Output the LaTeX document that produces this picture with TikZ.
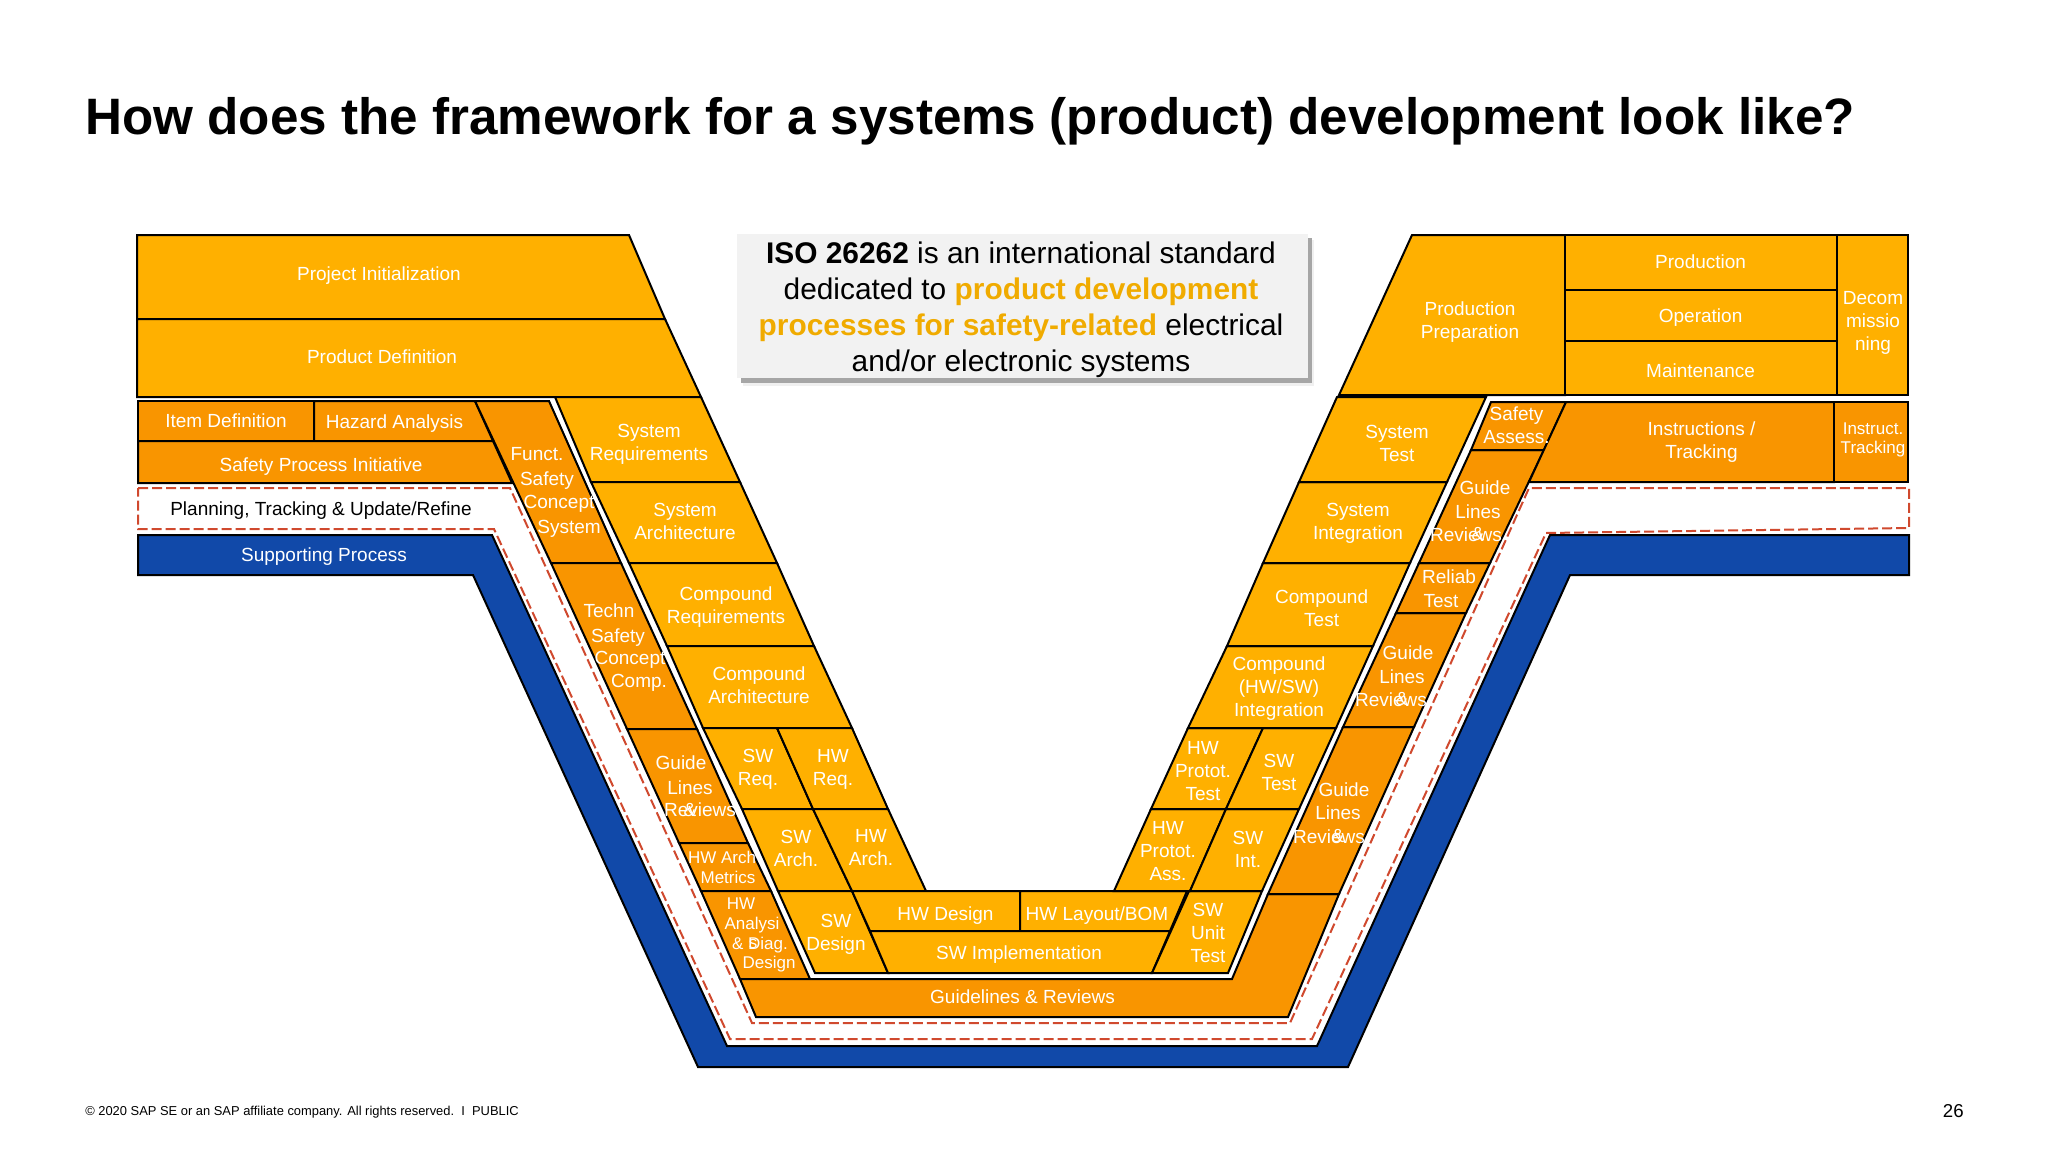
\documentclass[tikz,border=0pt]{standalone}
\usepackage{fontspec}
\setmainfont{Liberation Sans}
\definecolor{yel}{HTML}{FFB000}
\definecolor{org}{HTML}{F99500}
\definecolor{blu}{HTML}{1149A9}
\definecolor{dsh}{HTML}{D0492E}
\definecolor{cal}{HTML}{F2F2F2}
\definecolor{hl}{HTML}{F0AB00}
\tikzset{
  yelcell/.style={fill=yel,draw=black,line width=1.5pt,line join=miter},
  orgcell/.style={fill=org,draw=black,line width=1.5pt,line join=miter},
  blucell/.style={fill=blu,draw=black,line width=1.5pt},
  dashband/.style={fill=white,draw=dsh,line width=1.5pt,dash pattern=on 7.5pt off 3pt},
  lbl/.style={text=white,align=center,inner sep=0pt,font=\fontsize{14.25}{17.25}\selectfont},
  lblsm/.style={lbl,font=\fontsize{12.75}{14.6}\selectfont},
}
\begin{document}
\begin{tikzpicture}[x=0.75pt,y=-0.75pt]
\useasboundingbox (0,0) rectangle (2048,1152);
\fill[white] (0,0) rectangle (2048,1152);
% title
\node[anchor=base west,inner sep=0pt,font=\fontsize{38.4}{44}\selectfont\bfseries] (title) at (85,135) {How does the framework for a systems (product) development look like?};
% supporting band
\draw[blucell] (138,535)--(492,535)--(727,1046)--(1317,1046)--(1550,535)--(1909,535)--(1909,575)--(1570,575)--(1348,1067)--(698,1067)--(473,575)--(138,575)--cycle;
% planning band
\draw[dashband] (138,488)--(510,488)--(752,1023)--(1290,1023)--(1529,488)--(1909,488)--(1909,528)--(1546,533)--(1312,1039)--(730,1039)--(494,529)--(138,529)--cycle;
% left safety column
\draw[orgcell] (138,401)--(314,401)--(314,441)--(138,441)--cycle;
\draw[orgcell] (314,401)--(475,401)--(493,441)--(314,441)--cycle;
\draw[orgcell] (138,441)--(493,441)--(512,483)--(138,483)--cycle;
\draw[orgcell] (475,401)--(549,401)--(621,563)--(551,563)--cycle;
\draw[orgcell] (551,563)--(621,563)--(697,729)--(627,729)--cycle;
\draw[orgcell] (627,729)--(697,729)--(748,843)--(679,843)--cycle;
\draw[orgcell] (679,843)--(748,843)--(771,891)--(701,891)--cycle;
\draw[orgcell] (701,891)--(771,891)--(810,979)--(740,979)--cycle;
% guidelines bar
\draw[orgcell] (740,979)--(1232,979)--(1268,894)--(1339,894)--(1288,1017)--(756,1017)--cycle;
% right safety column
\draw[orgcell] (1268,894)--(1343,727)--(1414,727)--(1339,894)--cycle;
\draw[orgcell] (1343,727)--(1396,613)--(1466,613)--(1414,727)--cycle;
\draw[orgcell] (1396,613)--(1419,563)--(1490,563)--(1466,613)--cycle;
\draw[orgcell] (1419,563)--(1471,450)--(1544,450)--(1490,563)--cycle;
\draw[orgcell] (1471,450)--(1491,402)--(1566,402)--(1544,450)--cycle;
\draw[orgcell] (1566,402)--(1834,402)--(1834,482)--(1529,482)--cycle;
\draw[orgcell] (1834,402)--(1908,402)--(1908,482)--(1834,482)--cycle;
% top left
\draw[yelcell] (137,235)--(629,235)--(665,319)--(137,319)--cycle;
\draw[yelcell] (137,319)--(665,319)--(701,397)--(137,397)--cycle;
% left arm
\draw[yelcell] (555,397)--(701,397)--(740,482)--(591,482)--cycle;
\draw[yelcell] (591,482)--(740,482)--(777,563)--(629,563)--cycle;
\draw[yelcell] (629,563)--(777,563)--(814,646)--(667,646)--cycle;
\draw[yelcell] (667,646)--(814,646)--(852,728)--(703,728)--cycle;
\draw[yelcell] (703,728)--(777,728)--(813,809)--(742,809)--cycle;
\draw[yelcell] (777,728)--(852,728)--(888,809)--(813,809)--cycle;
\draw[yelcell] (742,809)--(813,809)--(852,891)--(778,891)--cycle;
\draw[yelcell] (813,809)--(888,809)--(926,891)--(852,891)--cycle;
\draw[yelcell] (778,891)--(852,891)--(888,973)--(815,973)--cycle;
% bottom
\draw[yelcell] (852,891)--(1020,891)--(1020,931)--(870,931)--cycle;
\draw[yelcell] (1020,891)--(1187,891)--(1170,931)--(1020,931)--cycle;
\draw[yelcell] (870,931)--(1170,931)--(1152,973)--(888,973)--cycle;
\draw[yelcell] (1189,891)--(1262,891)--(1228,973)--(1152,973)--cycle;
% right arm
\draw[yelcell] (1151,809)--(1226,809)--(1190,891)--(1114,891)--cycle;
\draw[yelcell] (1226,809)--(1299,809)--(1262,891)--(1190,891)--cycle;
\draw[yelcell] (1188,728)--(1263,728)--(1226,809)--(1151,809)--cycle;
\draw[yelcell] (1263,728)--(1336,728)--(1299,809)--(1226,809)--cycle;
\draw[yelcell] (1227,646)--(1373,646)--(1336,728)--(1188,728)--cycle;
\draw[yelcell] (1263,563)--(1410,563)--(1373,646)--(1227,646)--cycle;
\draw[yelcell] (1299,482)--(1447,482)--(1410,563)--(1263,563)--cycle;
\draw[yelcell] (1337,397)--(1486,397)--(1447,482)--(1299,482)--cycle;
% top right
\draw[yelcell] (1412,235)--(1565,235)--(1565,395)--(1339,395)--cycle;
\draw[yelcell] (1565,235)--(1837,235)--(1837,290)--(1565,290)--cycle;
\draw[yelcell] (1565,290)--(1837,290)--(1837,341)--(1565,341)--cycle;
\draw[yelcell] (1565,341)--(1837,341)--(1837,395)--(1565,395)--cycle;
\draw[yelcell] (1837,235)--(1908,235)--(1908,395)--(1837,395)--cycle;
% callout
\fill[black!6] (743,240) rectangle (1314,386);
\fill[black!35] (741,238) rectangle (1312,383);
\fill[cal] (737,234) rectangle (1308,378);
\node[align=center,inner sep=0pt,font=\fontsize{22.4}{27}\selectfont] (callout) at (1021,310) {\textbf{ISO 26262} is an international standard\\dedicated to \textcolor{hl}{\textbf{product development}}\\\textcolor{hl}{\textbf{processes for safety-related}} electrical\\and/or electronic systems};
% labels: top left
\node[lbl] (projinit) at (379,275.5) {Project Initialization};
\node[lbl] (proddef) at (382,357) {Product Definition};
\node[lbl] (itemdef) at (226,421) {Item Definition};
\node[lbl] (hazard) at (394.5,423.5) {Hazard Analysis};
\node[lbl] (spi) at (321,466.5) {Safety Process Initiative};
\node[lbl,text=black] (planning) at (321,510.5) {Planning, Tracking \& Update/Refine};
\node[lbl] (support) at (324,556.5) {Supporting Process};
% labels: left safety column
\node[lbl] (fs1) at (537,454) {Funct.};
\node[lbl] (fs2) at (547,480.5) {Safety};
\node[lbl] (fs3) at (559,504) {Concept};
\node[lbl] (fs4) at (569,528.5) {System};
\node[lbl] (ts1) at (609,611) {Techn};
\node[lbl] (ts2) at (618,637.5) {Safety};
\node[lbl] (ts3) at (630,660) {Concept};
\node[lbl] (ts4) at (639,683) {Comp.};
\node[lbl] (gl1) at (681,763) {Guide};
\node[lbl] (gl2) at (690,788) {Lines};
\node[lbl] (gl3) at (700,810) {Reviews};
\node[lbl] (gl4) at (690,810) {\&};
\node[lblsm] (ham1) at (722,857.5) {HW Arch};
\node[lblsm] (ham2) at (728,877.5) {Metrics};
\node[lblsm] (had1) at (741,904) {HW};
\node[lblsm] (had2) at (752,925) {Analysi};
\node[lblsm] (had3) at (760,945) {\& Diag.};
\node[lblsm] (had4) at (753,944) {s};
\node[lblsm] (had5) at (769,964) {Design};
% labels: left arm
\node[lbl] (sysreq) at (649,444) {System\\Requirements};
\node[lbl] (sysarch) at (685,521) {System\\Architecture};
\node[lbl] (compreq) at (726,607) {Compound\\Requirements};
\node[lbl] (comparch) at (759,685) {Compound\\Architecture};
\node[lbl] (swreq) at (758,769) {SW\\Req.};
\node[lbl] (hwreq) at (833,769) {HW\\Req.};
\node[lbl] (swarch) at (796,848) {SW\\Arch.};
\node[lbl] (hwarch) at (871,848) {HW\\Arch.};
\node[lbl] (swdes) at (836,934) {SW\\Design};
\node[lbl] (hwdes) at (945.5,915.5) {HW Design};
\node[lbl] (hwlay) at (1097,915.5) {HW Layout/BOM};
\node[lbl] (swimp) at (1019,954.5) {SW Implementation};
\node[lbl] (guide) at (1022.6,996.5) {Guidelines \& Reviews};
% labels: right arm
\node[lbl] (swunit) at (1208,933) {SW\\Unit\\Test};
\node[lbl] (hwass) at (1168,851) {HW\\Protot.\\Ass.};
\node[lbl] (swint) at (1248,849) {SW\\Int.};
\node[lbl] (hwtest) at (1203,771) {HW\\Protot.\\Test};
\node[lbl] (swtest) at (1279,772) {SW\\Test};
\node[lbl] (compint) at (1279,689) {Compound\\(HW/SW)\\Integration};
\node[lbl] (comptest) at (1321.6,608.5) {Compound\\Test};
\node[lbl] (sysint) at (1358,523.5) {System\\Integration};
\node[lbl] (systest) at (1397,443) {System\\Test};
% labels: right safety column
\node[lbl] (grc1) at (1344,790) {Guide};
\node[lbl] (grc2) at (1338,813) {Lines};
\node[lbl] (grc3) at (1329,837) {Reviews};
\node[lbl] (grc4) at (1338,836) {\&};
\node[lbl] (grb1) at (1408,653) {Guide};
\node[lbl] (grb2) at (1402,677) {Lines};
\node[lbl] (grb3) at (1391,700) {Reviews};
\node[lbl] (grb4) at (1402,699) {\&};
\node[lbl] (rel1) at (1449,577) {Reliab};
\node[lbl] (rel2) at (1441,601) {Test};
\node[lbl] (gra1) at (1485,488) {Guide};
\node[lbl] (gra2) at (1478,512) {Lines};
\node[lbl] (gra3) at (1466,535) {Reviews};
\node[lbl] (gra4) at (1478,534) {\&};
\node[lbl] (safety) at (1516.5,425.5) {Safety\\Assess.};
% labels: top right
\node[lbl] (prep) at (1470,322) {Production\\Preparation};
\node[lbl] (prod) at (1700.6,262) {Production};
\node[lbl] (oper) at (1700.6,317.5) {Operation};
\node[lbl] (maint) at (1700.6,371) {Maintenance};
\node[lbl] (decom) at (1873,323) {Decom\\missio\\ning};
\node[lbl] (instr) at (1701.5,442.5) {Instructions /\\Tracking};
\node[lblsm] (track) at (1873,440) {Instruct.\\Tracking};
% footer
\node[anchor=base west,inner sep=0pt,font=\fontsize{9.68}{11}\selectfont] (foot) at (85,1115) {© 2020 SAP SE or an SAP affiliate company. All rights reserved.\ \ I\ \ PUBLIC};
\node[anchor=base east,inner sep=0pt,font=\fontsize{14}{17}\selectfont] (pageno) at (1964,1117) {26};
\end{tikzpicture}
\end{document}
